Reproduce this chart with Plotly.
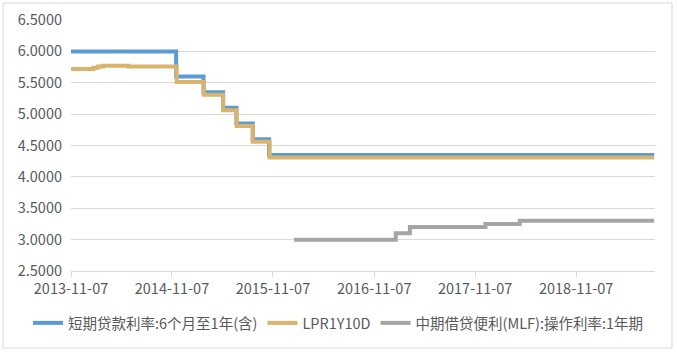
import plotly.graph_objects as go

# Short-term loan rate (6m-1y), step change dates and values
short_dates = ["2013-11-07", "2014-11-22", "2015-03-01", "2015-05-11", "2015-06-28",
               "2015-08-26", "2015-10-24", "2019-08-16"]
short_vals = [6.00, 5.60, 5.35, 5.10, 4.85, 4.60, 4.35, 4.35]

# LPR 1Y
lpr_dates = ["2013-11-07", "2013-12-02", "2014-01-27", "2014-02-12", "2014-03-03",
             "2014-06-03", "2014-11-24", "2015-03-02", "2015-05-11", "2015-06-29",
             "2015-08-26", "2015-10-26", "2019-08-16"]
lpr_vals = [5.72, 5.72, 5.74, 5.76, 5.77, 5.76, 5.51, 5.31, 5.06, 4.81,
            4.56, 4.31, 4.31]

# MLF 1Y operation rate
mlf_dates = ["2016-01-22", "2017-01-24", "2017-03-16", "2017-12-14", "2018-04-17", "2019-08-16"]
mlf_vals = [3.00, 3.10, 3.20, 3.25, 3.30, 3.30]

tick_dates = ["2013-11-07", "2014-11-07", "2015-11-07", "2016-11-07", "2017-11-07", "2018-11-07"]
y_ticks = [2.5, 3.0, 3.5, 4.0, 4.5, 5.0, 5.5, 6.0, 6.5]

names = ["短期贷款利率:6个月至1年(含)", "LPR1Y10D", "中期借贷便利(MLF):操作利率:1年期"]
colors = ["#5B9BD5", "#D8B46E", "#A5A5A5"]

font = "Noto Sans CJK SC"
fs = 14.5
fig = go.Figure()
for d, v, n, c in [(short_dates, short_vals, names[0], colors[0]),
                   (lpr_dates, lpr_vals, names[1], colors[1]),
                   (mlf_dates, mlf_vals, names[2], colors[2])]:
    fig.add_trace(go.Scatter(x=d, y=v, name=n, mode="lines",
                             line=dict(color=c, width=4, shape="hv")))

fig.update_layout(
    width=677, height=353,
    margin=dict(l=71, r=22, t=20, b=82, autoexpand=False),
    paper_bgcolor="white", plot_bgcolor="white",
    font=dict(family=font, size=fs, color="#595959"),
    showlegend=True,
    legend=dict(orientation="h", x=-0.0736, xanchor="left",
                y=-0.207, yanchor="middle", font=dict(size=fs, color="#595959"),
                itemwidth=30, tracegroupgap=0),
    xaxis=dict(type="date", range=["2013-11-07", "2019-08-19"],
               tickvals=tick_dates, ticktext=tick_dates, tickangle=0,
               showgrid=False, showline=True, linecolor="#D9D9D9", linewidth=1,
               ticks="outside", ticklen=5, tickcolor="#D9D9D9",
               tickfont=dict(size=fs, color="#595959"), zeroline=False),
    yaxis=dict(range=[2.5, 6.5], tickvals=y_ticks, tickformat=".4f",
               showgrid=True, gridcolor="#D9D9D9", gridwidth=1,
               showline=False, zeroline=False, ticks="", ticklabelstandoff=8,
               tickfont=dict(size=fs, color="#595959")),
    shapes=[dict(type="rect", xref="paper", yref="paper",
                 x0=-0.1164, x1=1.0291, y0=-0.3068, y1=1.0677,
                 line=dict(color="#D9D9D9", width=1), layer="below")],
)

fig.write_html("out.html")
